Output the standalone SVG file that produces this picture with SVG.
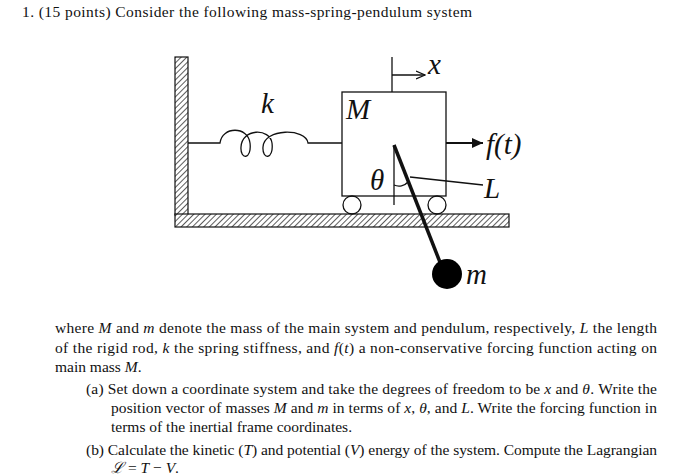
<svg xmlns="http://www.w3.org/2000/svg" width="700" height="476" viewBox="0 0 700 476">
<style>
text{font-family:"Liberation Serif","DejaVu Serif",serif;fill:#111}
.t text{font-size:15.5px}
.lab{font-size:29px;font-style:italic}
.ln{stroke:#111;stroke-width:1.3;fill:none}
</style>
<defs>
<pattern id="h" width="4" height="4" patternUnits="userSpaceOnUse" patternTransform="rotate(45)">
<rect width="4" height="4" fill="#fff"/><line x1="0" y1="0" x2="0" y2="4" stroke="#333" stroke-width="1.6"/>
</pattern>
<marker id="a" markerWidth="10" markerHeight="10" refX="9" refY="5" orient="auto" markerUnits="userSpaceOnUse"><path d="M0,1 L9,5 L0,9" fill="none" stroke="#111" stroke-width="1.2"/></marker>
<marker id="b" markerWidth="12" markerHeight="12" refX="11" refY="6" orient="auto" markerUnits="userSpaceOnUse"><path d="M0,1 L11,6 L0,11 Z" fill="#111"/></marker>
</defs>
<rect width="700" height="476" fill="#fff"/>
<g class="t"><text x="22" y="17" textLength="450">1. (15 points) Consider the following mass-spring-pendulum system</text></g>
<g id="ground">
<rect x="175" y="57" width="13" height="158" fill="url(#h)" stroke="#111" stroke-width="1.2"/>
<rect x="175" y="214" width="334" height="13" fill="url(#h)" stroke="#111" stroke-width="1.2"/>
</g>
<g id="spring">
<path class="ln" d="M188,143 H220 C222,126 248,126 250,143 C252,160 240,160 241,147 C242,128 270,128 272,143 C274,160 262,160 263,147 C264,128 306,128 308,143 H342"/>
<text class="lab" x="261" y="113">k</text>
</g>
<g id="mass">
<rect x="342" y="92" width="104" height="104" class="ln"/>
<text class="lab" x="346" y="119">M</text>
<circle cx="352" cy="205" r="9" class="ln"/>
<circle cx="437" cy="205" r="9" class="ln"/>
</g>
<g id="connectors">
<line class="ln" x1="392" y1="57" x2="392" y2="92"/>
<line class="ln" x1="392" y1="75" x2="425" y2="75" marker-end="url(#a)"/>
<line x1="446" y1="143" x2="483" y2="143" stroke="#111" stroke-width="2" marker-end="url(#b)"/>
<line class="ln" x1="394" y1="145" x2="394" y2="205"/>
<line x1="394" y1="145" x2="445" y2="275" stroke="#111" stroke-width="3.5"/>
<path class="ln" d="M394,185 A12,12 0 0 0 408,182"/>
<line class="ln" x1="410" y1="177" x2="483" y2="185"/>
</g>
<g id="pendulum">
<circle cx="447" cy="274" r="15" fill="#000"/>
<text class="lab" x="466" y="284">m</text>
</g>
<text class="lab" x="428" y="74">x</text>
<text class="lab" x="486" y="154">f(t)</text>
<text class="lab" x="370" y="190" font-size="26">θ</text>
<text class="lab" x="484" y="198">L</text>
<g class="t">
<text x="55" y="333" textLength="602">where <tspan font-style="italic">M</tspan> and <tspan font-style="italic">m</tspan> denote the mass of the main system and pendulum, respectively, <tspan font-style="italic">L</tspan> the length</text>
<text x="55" y="353" textLength="602">of the rigid rod, <tspan font-style="italic">k</tspan> the spring stiffness, and <tspan font-style="italic">f</tspan>(<tspan font-style="italic">t</tspan>) a non-conservative forcing function acting on</text>
<text x="55" y="372">main mass <tspan font-style="italic">M</tspan>.</text>
<text x="86" y="394" textLength="571">(a) Set down a coordinate system and take the degrees of freedom to be <tspan font-style="italic">x</tspan> and <tspan font-style="italic">θ</tspan>. Write the</text>
<text x="111" y="413" textLength="546">position vector of masses <tspan font-style="italic">M</tspan> and <tspan font-style="italic">m</tspan> in terms of <tspan font-style="italic">x</tspan>, <tspan font-style="italic">θ</tspan>, and <tspan font-style="italic">L</tspan>. Write the forcing function in</text>
<text x="111" y="432">terms of the inertial frame coordinates.</text>
<text x="86" y="455" textLength="571">(b) Calculate the kinetic (<tspan font-style="italic">T</tspan>) and potential (<tspan font-style="italic">V</tspan>) energy of the system. Compute the Lagrangian</text>
<text x="111" y="473"><tspan font-style="italic">ℒ</tspan> = <tspan font-style="italic">T</tspan> − <tspan font-style="italic">V</tspan>.</text>
</g>
</svg>
